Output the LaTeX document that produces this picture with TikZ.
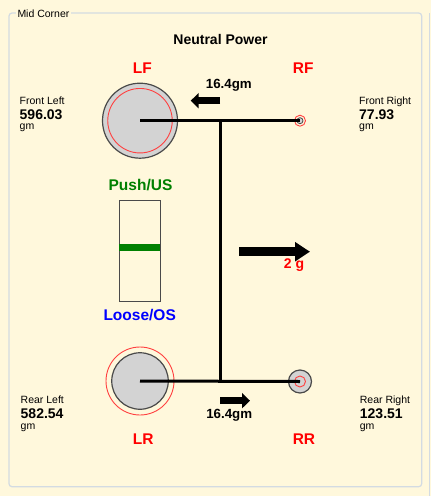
\documentclass[tikz,border=0pt]{standalone}
\usepackage{fontspec}
\setmainfont{Liberation Sans}
\usetikzlibrary{arrows.meta}
\definecolor{panelF}{HTML}{FFF8DC}
\definecolor{panelE}{HTML}{D3DBE2}
\definecolor{wheelF}{HTML}{D3D3D3}
\definecolor{wheelE}{HTML}{4A4A4A}
\definecolor{ringR}{HTML}{FF4040}
\definecolor{pushG}{HTML}{008000}
\definecolor{looseB}{HTML}{0000FF}

\begin{document}
\begin{tikzpicture}[
    x=1pt,y=-1pt,
    corner/.style={text=red,font=\fontsize{15.5}{18}\selectfont\bfseries,
                   inner sep=0pt,anchor=base},
    wheel/.style={circle,draw=wheelE,fill=wheelF,line width=1.2pt,inner sep=0pt},
    ring/.style={circle,draw=ringR,line width=0.9pt,inner sep=0pt},
    axle/.style={line width=3pt},
    small/.style={font=\fontsize{10.5}{12}\selectfont,inner sep=0pt,anchor=base west},
    val/.style={font=\fontsize{14}{16}\selectfont\bfseries,inner sep=0pt,anchor=base west},
    force/.style={line width=7.5pt,-{Triangle[length=8pt,width=15pt]}},
    bigforce/.style={line width=9.3pt,-{Triangle[length=15pt,width=18.5pt]}},
]

% =====================================================================
%  panel
% =====================================================================
\useasboundingbox (0,0) rectangle (431,496);
\fill[panelF] (0,0) rectangle (431,496);
\draw[panelE,line width=1.2pt,rounded corners=3pt] (9,13) rectangle (421.7,486.7);
\draw[panelE,line width=1.2pt] (429.3,13) -- (429.3,496);
\node[fill=panelF,inner xsep=2pt,inner ysep=1pt,anchor=base west,
      font=\fontsize{10.5}{12}\selectfont] (title) at (15.3,17.3) {Mid Corner};

\node[font=\fontsize{14}{16}\selectfont\bfseries,inner sep=0pt,anchor=base]
     (mode) at (220.5,44.3) {Neutral Power};

% =====================================================================
%  wheels (grey = corner weight, red = reference ring)
% =====================================================================
\node[wheel,minimum size=75pt] (lf) at (140,120.7) {};
\node[ring,minimum size=64.5pt] (lfring) at (lf) {};
\node[wheel,minimum size=6pt,line width=0.8pt] (rf) at (300,120.7) {};
\node[ring,minimum size=11pt] (rfring) at (rf) {};
\node[wheel,minimum size=56.5pt] (lr) at (140,381) {};
\node[ring,minimum size=68pt] (lrring) at (lr) {};
\node[wheel,minimum size=23pt] (rr) at (300,381.5) {};
\node[ring,minimum size=11pt] (rrring) at (rr) {};

% chassis
\coordinate (fmid) at (220,120.7);
\coordinate (rmid) at (220,381);
\draw[axle] (lf.center) -- (rf.center);
\draw[axle] (lr.center) -- (rr.center);
\draw[axle] (fmid) -- (rmid);

% =====================================================================
%  corner labels and weights
% =====================================================================
\node[corner] (lfname) at (142.3,73.3) {LF};
\node[corner] (rfname) at (303.3,73.3) {RF};
\node[corner] (lrname) at (143.3,444) {LR};
\node[corner] (rrname) at (304,444) {RR};

\foreach \n/\x/\y/\nm/\v in {fl/19.5/104/Front Left/596.03,
                             fr/359/104/Front Right/77.93,
                             rl/20.5/403.3/Rear Left/582.54,
                             rr/359.7/403.5/Rear Right/123.51}{
   \node[small] (\n-name) at (\x,\y) {\nm};
   \node[val]   (\n-val)  at (\x,\y+15.3) {\v};
   \node[small] (\n-unit) at (\x,\y+25.8) {gm};
}

% =====================================================================
%  load transfer arrows
% =====================================================================
\coordinate (ftail) at (220,100.7);
\coordinate (fhead) at (190.7,100.7);
\draw[force] (ftail) -- (fhead);
\node[font=\fontsize{13.3}{15}\selectfont\bfseries,inner sep=0pt,anchor=base]
     (fshift) at (228.8,88.3) {16.4gm};

\coordinate (rtail) at (220,400.7);
\coordinate (rhead) at (250,400.7);
\draw[force] (rtail) -- (rhead);
\node[font=\fontsize{13.3}{15}\selectfont\bfseries,inner sep=0pt,anchor=base]
     (rshift) at (229.2,418.3) {16.4gm};

% lateral g
\coordinate (gtail) at (239,251.7);
\coordinate (ghead) at (310,251.7);
\draw[bigforce] (gtail) -- (ghead);
\node[text=red,font=\fontsize{14}{16}\selectfont\bfseries,inner sep=0pt,anchor=base]
     (glat) at (294,268.3) {2 g};

% =====================================================================
%  balance gauge
% =====================================================================
\node[text=pushG,font=\fontsize{15.5}{18}\selectfont\bfseries,inner sep=0pt,anchor=base]
     (push) at (140.5,190) {Push/US};
\node[draw=wheelE,fill=panelF,line width=1pt,inner sep=0pt,
      minimum width=40.7pt,minimum height=100.3pt] (gauge) at (139.65,250.85) {};
\node[fill=pushG,inner sep=0pt,minimum width=40.7pt,minimum height=7pt]
     (balance) at (139.65,247) {};
\node[text=looseB,font=\fontsize{15.5}{18}\selectfont\bfseries,inner sep=0pt,anchor=base]
     (loose) at (139.7,320.7) {Loose/OS};

\end{tikzpicture}
\end{document}
